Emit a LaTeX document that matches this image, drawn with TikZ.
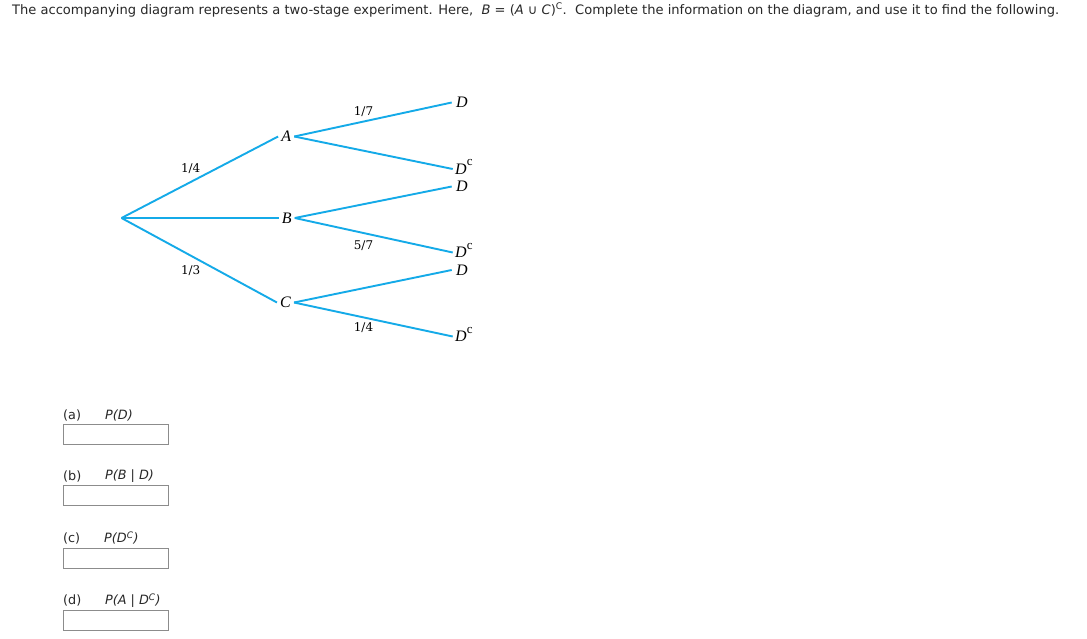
\documentclass[tikz,border=0pt]{standalone}
\usepackage{fontspec}
\setmainfont{DejaVu Sans}
\newfontfamily\treefont{Liberation Serif}
\newfontfamily\probfont{DejaVu Serif}
\definecolor{branch}{RGB}{20,170,232}
\definecolor{txt}{RGB}{40,40,40}
\definecolor{boxgray}{RGB}{140,140,140}
\tikzset{
  branchline/.style={draw=branch, line width=1.9pt},
  event/.style={font=\treefont\fontsize{16}{16}\selectfont\itshape, inner xsep=3pt, inner ysep=0pt},
  leaf/.style={font=\treefont\fontsize{16}{16}\selectfont\itshape, inner sep=0pt, anchor=west},
  prob/.style={font=\probfont\fontsize{12}{12}\selectfont, inner sep=0pt},
  qlabel/.style={font=\fontsize{12.8}{14}\selectfont, text=txt, inner sep=0pt, anchor=west},
  ansbox/.style={draw=boxgray, line width=0.9pt, minimum width=105pt, minimum height=20pt, inner sep=0pt}
}
\newcommand{\supc}{\smash{\raisebox{8.5pt}{\fontsize{13}{13}\selectfont\upshape c}}}
\begin{document}
\begin{tikzpicture}[x=1pt,y=-1pt]
\useasboundingbox (0,0) rectangle (1087,638);
\fill[white] (0,0) rectangle (1087,638);
% header
\node[anchor=west, inner sep=0pt, text=txt, font=\fontsize{13.05}{15}\selectfont] (header) at (12,10)
 {The accompanying diagram represents a two-stage experiment. Here,\ \ \textit{B} = (\textit{A} ∪ \textit{C})\textsuperscript{C}.\ \ Complete the information on the diagram, and use it to find the following.};
% tree
\coordinate (root) at (121.5,218);
\node[event] (A) at (286.2,136.5) {A};
\node[event] (B) at (286.7,218) {B};
\node[event] (C) at (285.5,302.5) {C};
\node[leaf] (AD) at (456,102.5) {D};
\node[leaf] (ADc) at (455,169) {D\supc};
\node[leaf] (BD) at (456,186.5) {D};
\node[leaf] (BDc) at (455,252.5) {D\supc};
\node[leaf] (CD) at (456,270) {D};
\node[leaf] (CDc) at (455,336.5) {D\supc};
\draw[branchline] (root) -- (A.west);
\draw[branchline] (root) -- (B.west);
\draw[branchline] (root) -- (C.west);
\draw[branchline] (A.east) -- ([xshift=-4.3pt]AD.west);
\draw[branchline] (A.east) -- ([xshift=-2.3pt]ADc.west);
\draw[branchline] (B.east) -- ([xshift=-4.3pt]BD.west);
\draw[branchline] (B.east) -- ([xshift=-2.3pt]BDc.west);
\draw[branchline] (C.east) -- ([xshift=-4.3pt]CD.west);
\draw[branchline] (C.east) -- ([xshift=-2.3pt]CDc.west);
\node[prob] (pA) at (190.7,169) {1/4};
\node[prob] (pC) at (190.7,271) {1/3};
\node[prob] (pAD) at (363.5,111.5) {1/7};
\node[prob] (pBDc) at (363.5,245.5) {5/7};
\node[prob] (pCDc) at (363.5,328) {1/4};
% questions
\node[qlabel] (la) at (63,415.5) {(a)};
\node[qlabel] (qa) at (105,415.5) {\textit{P(D)}};
\node[ansbox] (boxa) at (115.8,434.3) {};
\node[qlabel] (lb) at (63,476.5) {(b)};
\node[qlabel] (qb) at (105,476.5) {\textit{P(B | D)}};
\node[ansbox] (boxb) at (115.8,495.3) {};
\node[qlabel] (lc) at (63,538) {(c)};
\node[qlabel] (qc) at (104,538) {\textit{P(D\textsuperscript{C})}};
\node[ansbox] (boxc) at (115.8,558.3) {};
\node[qlabel] (ld) at (63,600.5) {(d)};
\node[qlabel] (qd) at (105,600.5) {\textit{P(A | D\textsuperscript{C})}};
\node[ansbox] (boxd) at (115.8,620.3) {};
\end{tikzpicture}
\end{document}
